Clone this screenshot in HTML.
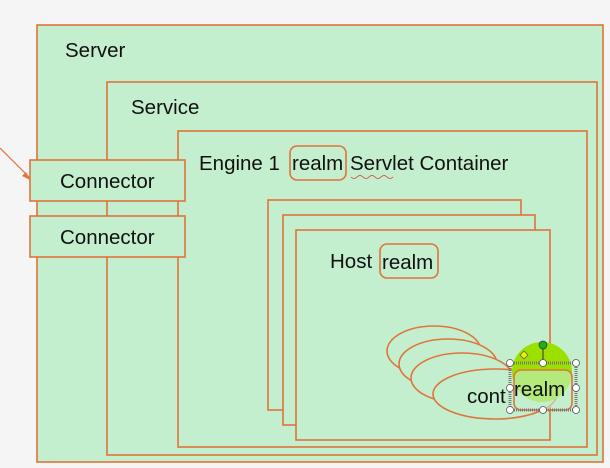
<!DOCTYPE html>
<html><head><style>
body{margin:0;background:#f5f5f5;}
svg{display:block;font-family:"Liberation Sans",sans-serif;}
</style></head><body>
<svg width="610" height="468" viewBox="0 0 610 468">
<rect width="610" height="468" fill="#f5f5f5"/>
<g fill="#c4efcf" stroke="#e0743a" stroke-width="1.6">
<rect x="37" y="25" width="566" height="437"/>
<rect x="107" y="82" width="490" height="373"/>
<rect x="178" y="131" width="409" height="316"/>
<rect x="268" y="200" width="253" height="210"/>
<rect x="283" y="215" width="252" height="210"/>
<rect x="296" y="230" width="254" height="210"/>
<ellipse cx="434" cy="351" rx="47" ry="25"/>
<ellipse cx="448" cy="364" rx="49" ry="25"/>
<ellipse cx="462" cy="378" rx="51" ry="25"/>
<ellipse cx="495" cy="394" rx="62" ry="25"/>
<rect x="30" y="160" width="155" height="41"/>
<rect x="30" y="216" width="155" height="41"/>
<rect x="290" y="146" width="56" height="34" rx="7"/>
<rect x="380" y="244" width="58" height="34" rx="7"/>
</g>
<line x1="0" y1="148" x2="30" y2="178" stroke="#e0743a" stroke-width="1.2"/>
<polygon points="30,180 22,176 26,172" fill="#e0743a"/>
<circle cx="542" cy="372" r="30" fill="#9ce000"/>
<rect x="514" y="370" width="58" height="40" rx="7" fill="#c4efcf" stroke="#e0743a" stroke-width="1.6" fill-opacity="0.6"/>
<rect x="510" y="363" width="66" height="47" fill="none" stroke="#777" stroke-width="3" stroke-dasharray="1,1"/>
<line x1="543" y1="345" x2="543" y2="363" stroke="#333"/>
<circle cx="543" cy="345" r="4" fill="#2a2" stroke="#333" stroke-width=".7"/>
<g fill="#fff" stroke="#555" stroke-width=".8">
<circle cx="510" cy="363" r="3.5"/><circle cx="543" cy="363" r="3.5"/><circle cx="576" cy="363" r="3.5"/>
<circle cx="510" cy="388" r="3.5"/><circle cx="576" cy="388" r="3.5"/>
<circle cx="510" cy="410" r="3.5"/><circle cx="543" cy="410" r="3.5"/><circle cx="576" cy="410" r="3.5"/>
</g>
<polygon points="520,355 524,351 528,355 524,359" fill="#ee0" stroke="#555" stroke-width=".7"/>
<g fill="#111" font-size="20.5">
<text x="65" y="57">Server</text>
<text x="131" y="114">Service</text>
<text x="199" y="170">Engine 1</text>
<text x="292" y="170">realm</text>
<text x="350" y="170">Servlet Container</text>
<text x="60" y="188">Connector</text>
<text x="60" y="244">Connector</text>
<text x="330" y="268">Host</text>
<text x="382" y="269">realm</text>
<text x="467" y="403">cont</text>
<text x="514" y="396">realm</text>
</g>
<path d="M351 177 q3 3 6 0 t6 0 t6 0 t6 0 t6 0 t6 0 t6 0" fill="none" stroke="#d33" stroke-width=".8"/>
</svg>
</body></html>
